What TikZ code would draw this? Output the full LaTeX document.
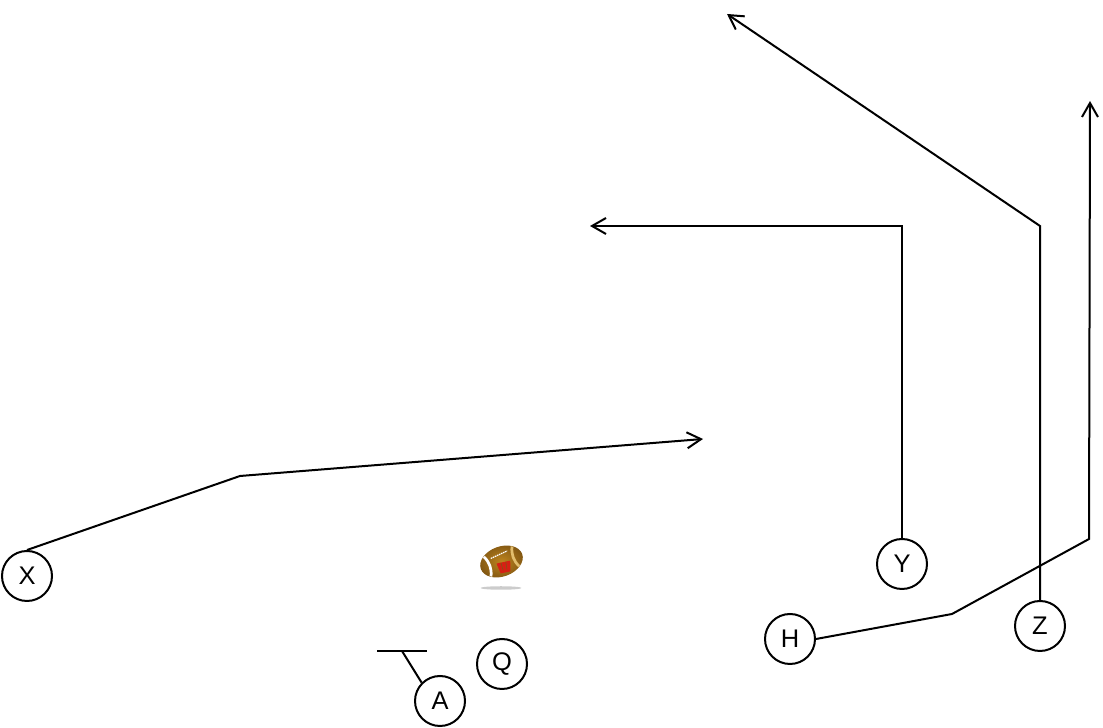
\documentclass[tikz,border=0pt]{standalone}
\usepackage{fontspec}
\setmainfont{Liberation Sans}
\usetikzlibrary{arrows.meta}
\definecolor{ballbrown}{RGB}{190,132,30}
\definecolor{balldark}{RGB}{128,86,18}
\definecolor{balllight}{RGB}{226,190,110}
\definecolor{balllogo}{RGB}{214,32,20}
\tikzset{
	player/.style={draw, circle, line width=0.04cm, minimum size=1cm, inner sep=0pt, font=\fontsize{14.5}{15}\selectfont},
	route/.style={line width=0.04cm, -{Straight Barb[length=0.28cm, width=0.32cm]}},
	block/.style={line width=0.04cm}
}
\begin{document}
\begin{tikzpicture}
		\useasboundingbox (0, 0) rectangle (22.06, 14.56);

		\node[player] (x) at (0.54, 3.04) {X};
		\node[player] (y) at (18.04, 3.28) {Y};
		\node[player] (z) at (20.80, 2.04) {Z};
		\node[player] (h) at (15.80, 1.78) {H};
		\node[player] (q) at (10.04, 1.28) {Q};
		\node[player] (a) at (8.80, 0.54) {A};

		\coordinate (x1) at (4.80, 5.04);
		\coordinate (x2) at (14.06, 5.78);
		\coordinate (y1) at (18.04, 10.04);
		\coordinate (y2) at (11.80, 10.04);
		\coordinate (z1) at (20.80, 10.04);
		\coordinate (z2) at (14.54, 14.28);
		\coordinate (h1) at (19.04, 2.28);
		\coordinate (h2) at (21.78, 3.78);
		\coordinate (h3) at (21.80, 12.54);
		\coordinate (a1) at (8.04, 1.54);
		\coordinate (b1) at (7.54, 1.54);
		\coordinate (b2) at (8.54, 1.54);

		% routes
		\draw[route] (x.north) -- (x1) -- (x2);
		\draw[route] (y.north) -- (y1) -- (y2);
		\draw[route] (z.north) -- (z1) -- (z2);
		\draw[route] (h.east) -- (h1) -- (h2) -- (h3);

		% block
		\draw[block] (a.135) -- (a1);
		\draw[block] (b1) -- (b2);

		% ball
		\fill[black!20] (10.02, 2.80) ellipse (0.41 and 0.035);
		\begin{scope}[shift={(10.03, 3.33)}, rotate=20]
			\shade[outer color=balldark, inner color=ballbrown] (0, 0) ellipse (0.44 and 0.30);
			\draw[white, line width=0.055cm] (-0.30, 0.21) .. controls (-0.23, 0.07) and (-0.23, -0.07) .. (-0.30, -0.21);
			\draw[balllight, line width=0.055cm] (0.30, 0.21) .. controls (0.23, 0.07) and (0.23, -0.07) .. (0.30, -0.21);
			\draw[white, line width=0.025cm, dash pattern=on 0.03cm off 0.015cm] (-0.18, 0.13) -- (0.18, 0.16);
		\end{scope}
		\begin{scope}[shift={(10.09, 3.21)}, rotate=12]
			\fill[balllogo] (-0.14, 0.11) -- (0.14, 0.11) -- (0.10, -0.10) -- (-0.10, -0.10) -- cycle;
			\draw[balldark, line width=0.012cm] (-0.05, 0.11) -- (-0.04, -0.05) (0.05, 0.11) -- (0.04, -0.05);
		\end{scope}
	\end{tikzpicture}
\end{document}
